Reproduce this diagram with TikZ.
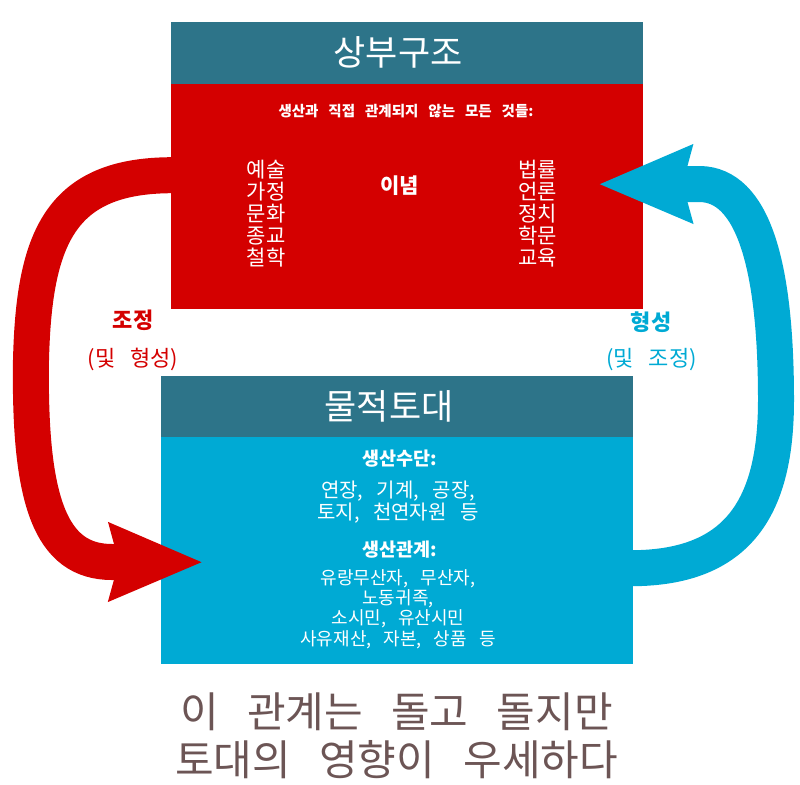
\documentclass[tikz,border=0pt]{standalone}
\usepackage{fontspec}
\setmainfont{Noto Sans CJK KR}[WordSpace=3]
\usetikzlibrary{arrows.meta}
\definecolor{hdrc}{HTML}{2D7489}
\definecolor{redc}{HTML}{D40000}
\definecolor{bluec}{HTML}{00AAD4}
\definecolor{capc}{HTML}{6C5555}
\begin{document}
\begin{tikzpicture}[x=1pt,y=-1pt,
  hdr/.style={fill=hdrc, draw=none, inner sep=0pt, minimum width=472pt, minimum height=62pt, anchor=north west},
  body/.style={draw=none, inner sep=0pt, minimum width=472pt, anchor=north west},
  txt/.style={inner sep=0pt, align=center, text=white},
  ttl/.style={txt, font=\fontsize{35}{40}\selectfont},
  subhd/.style={txt, font=\bfseries\fontsize{14.5}{18}\selectfont},
  lst/.style={txt, font=\fontsize{21}{22}\selectfont},
  lbl/.style={inner sep=0pt, align=center, font=\fontsize{22}{26}\selectfont},
  lblb/.style={lbl, font=\bfseries\fontsize{22}{26}\selectfont},
  basesub/.style={txt, font=\bfseries\fontsize{18.5}{22}\selectfont},
  parA/.style={txt, font=\fontsize{20}{22}\selectfont},
  parB/.style={txt, font=\fontsize{18}{20.3}\selectfont},
  captext/.style={inner sep=0pt, align=center, text=capc, font=\fontsize{42}{48}\selectfont},
  bigarrow/.style={line width=36pt, -{Stealth[length=92pt,width=74pt,inset=8pt]}}
]
\useasboundingbox (0,0) rectangle (800,784);

% boxes
\node[hdr] (suphead) at (171,22) {};
\node[body, fill=redc, minimum height=225pt] (sup) at (171,84) {};
\node[hdr] (basehead) at (161,376) {};
\node[body, fill=bluec, minimum height=227pt] (base) at (161,437) {};

% superstructure texts
\node[ttl] (suptitle) at (398,52) {상부구조};
\node[subhd] (supsub) at (406,111) {생산과 직접 관계되지 않는 모든 것들:};
\node[lst] (supleft) at (266,213.5) {예술\\가정\\문화\\종교\\철학};
\node[txt, font=\bfseries\fontsize{21}{24}\selectfont] (supmid) at (399.5,186) {이념};
\node[lst] (supright) at (537.5,213.5) {법률\\언론\\정치\\학문\\교육};

% base texts
\node[ttl] (basetitle) at (389,406.5) {물적토대};
\node[basesub] (means) at (400,459) {생산수단:};
\node[parA] (meanslist) at (398,502) {연장, 기계, 공장,\\토지, 천연자원 등};
\node[basesub] (rel) at (400,550) {생산관계:};
\node[parB] (rellist) at (398,609) {유랑무산자, 무산자,\\노동귀족,\\소시민, 유산시민\\사유재산, 자본, 상품 등};

% arrow labels
\node[lblb, text=redc] (ladj) at (133,320) {조정};
\node[lbl, text=redc] (ladj2) at (133,359) {(및 형성)};
\node[lblb, text=bluec] (rform) at (651,322) {형성};
\node[lbl, text=bluec] (rform2) at (651.5,360) {(및 조정)};

% caption
\node[captext] (caption) at (396.5,736) {이 관계는 돌고 돌지만\\토대의 영향이 우세하다};

% connectors
\coordinate (rs) at ([xshift=2pt,yshift=21.5pt]sup.west);
\coordinate (rt) at ([xshift=42pt,yshift=-11.5pt]base.west);
\coordinate (bs) at ([xshift=-2pt,yshift=-17.5pt]base.east);
\coordinate (bt) at ([xshift=-45pt,yshift=12.5pt]sup.east);
\draw[bigarrow, redc] (rs) .. controls (60,175) and (34,238) .. (31,360)
      .. controls (29,500) and (50,562) .. (112,562) -- (rt);
\draw[bigarrow, bluec] (bs) .. controls (740,568) and (776,505) .. (776,400)
      .. controls (776,262) and (752,185) .. (700,184) -- (bt);
\end{tikzpicture}
\end{document}
